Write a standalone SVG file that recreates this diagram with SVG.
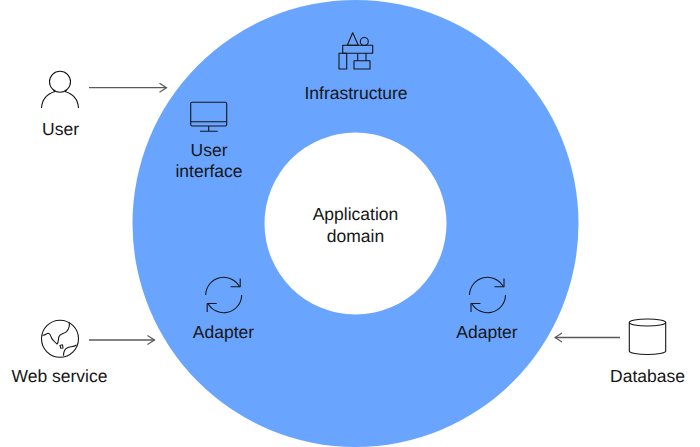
<svg xmlns="http://www.w3.org/2000/svg" width="700" height="447" viewBox="0 0 700 447">
<style>
text{font-family:"Liberation Sans",Arial,sans-serif;font-size:17.500px;fill:#161616;text-anchor:middle;text-rendering:geometricPrecision}
.i{fill:none;stroke:#161616;stroke-width:1.100;stroke-linejoin:round}
.c{fill:none;stroke:#5a5a5a;stroke-width:1.300}
</style>
<defs>
<marker id="a" markerWidth="10" markerHeight="12" refX="8.500" refY="5" orient="auto" markerUnits="userSpaceOnUse"><path d="M1.500 0.500L8.500 5L1.500 9.500" fill="none" stroke="#5a5a5a" stroke-width="1.200"/></marker>
<g id="sync"><path class="i" d="M-18 0A18 18 0 0 1 16 -8"/><path class="i" d="M16.500 -16.500V-8.300H7"/><path class="i" d="M18 0A18 18 0 0 1 -16 8"/><path class="i" d="M-16.500 17V8.500H-7"/></g>
</defs>
<rect width="700" height="447" fill="#fff"/>
<g id="ring"><path fill="#69a5ff" fill-rule="evenodd" d="M132.500 223.500A223 223.500 0 1 1 578.500 223.500A223 223.500 0 1 1 132.500 223.500ZM264.500 223.500A91 91 0 1 0 446.500 223.500A91 91 0 1 0 264.500 223.500Z"/></g>
<g id="connectors">
<path class="c" d="M89 87.700H166.500" marker-end="url(#a)"/>
<path class="c" d="M89 340H154.500" marker-end="url(#a)"/>
<path class="c" d="M620 337.500H555" marker-end="url(#a)"/>
</g>
<g id="user"><circle class="i" cx="60" cy="81.700" r="10.500"/><path class="i" d="M41.500 108C42 99 47 94 55 91.500L53.500 90M65 91.500C73 94 78 99 78.500 108M65 91.500L66.500 90"/><text x="60.500" y="134.500">User</text></g>
<g id="user-interface"><rect class="i" x="190.700" y="102.300" width="36" height="23.700" rx="1.500"/><path class="i" d="M190.700 121.700H226.700M208.700 126V131M200 131.300H217.700"/><text x="209" y="155.500">User</text><text x="209" y="177">interface</text></g>
<g id="infrastructure"><path class="i" d="M352.700 32.700L347.300 45.300H358.300Z"/><circle class="i" cx="364.300" cy="41.500" r="4"/><rect class="i" x="342.700" y="45.300" width="30" height="8"/><rect class="i" x="339" y="53.300" width="7.700" height="15.700"/><path class="i" d="M357.700 53.300V60.700M366 53.300V60.700"/><rect class="i" x="354" y="60.700" width="16" height="8.300"/><text x="356" y="99">Infrastructure</text></g>
<g id="application-domain"><text x="355.500" y="220">Application</text><text x="355.500" y="242">domain</text></g>
<g id="adapter-left"><use href="#sync" x="223.700" y="295"/><text x="223.500" y="338">Adapter</text></g>
<g id="adapter-right"><use href="#sync" x="487.500" y="295"/><text x="487" y="338">Adapter</text></g>
<g id="web-service"><circle class="i" cx="60" cy="338.700" r="18.500"/><path class="i" d="M42.500 335C45 336 46 333.500 48.300 333.300C51 333.500 50.500 337.500 52.500 339.500C54.500 341.500 55.500 343 57 344C59 342 58 339 59 336.500C60 333.500 64 334 66.500 331.700C69 329 70 326 69 322"/><path class="i" d="M60 345.500L62.500 344.800L63 348L60.800 348.300Z"/><path class="i" d="M63.500 355.800C63.500 352 65 349 67 348C70 346 73 347.500 76.500 345"/><text x="59.500" y="382">Web service</text></g>
<g id="database"><ellipse class="i" cx="647.500" cy="322.500" rx="18.200" ry="3.500"/><path class="i" d="M629.300 322.500V351C629.300 353 638 354.500 647.500 354.500S665.700 353 665.700 351V322.500"/><text x="647.500" y="381.500">Database</text></g>
</svg>
